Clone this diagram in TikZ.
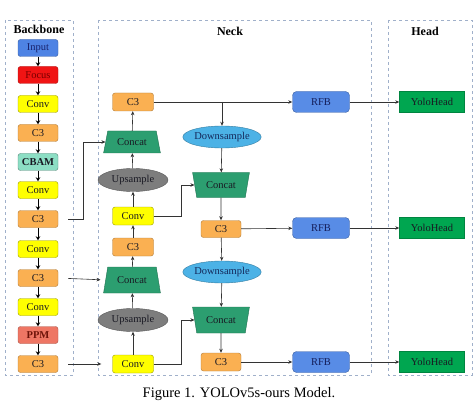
\documentclass[tikz,border=0pt]{standalone}
\usepackage{fontspec}
\setmainfont{Liberation Serif}
\usetikzlibrary{shapes.geometric,arrows.meta,positioning,calc}

\definecolor{inputC}{RGB}{78,131,228}
\definecolor{focusC}{RGB}{240,20,20}
\definecolor{convC}{RGB}{255,255,0}
\definecolor{cthreeC}{RGB}{250,176,82}
\definecolor{cbamC}{RGB}{140,222,196}
\definecolor{ppmC}{RGB}{238,118,100}
\definecolor{concatC}{RGB}{44,158,112}
\definecolor{upC}{RGB}{125,125,125}
\definecolor{downC}{RGB}{76,178,230}
\definecolor{rfbC}{RGB}{88,140,230}
\definecolor{yoloC}{RGB}{0,166,80}
\definecolor{frameC}{RGB}{160,176,202}
\definecolor{inkC}{RGB}{25,25,35}

\begin{document}
\begin{tikzpicture}[x=1pt,y=-1pt,
    font=\fontsize{10.5}{11}\selectfont, text=inkC,
    blk/.style={draw, rounded corners=2.5pt, minimum width=40pt, minimum height=17pt, inner sep=0pt},
    inbox/.style={blk, fill=inputC, draw=inputC!70!black, text={rgb,255:red,25;green,35;blue,110}},
    focbox/.style={blk, fill=focusC, draw=focusC!70!black, text={rgb,255:red,120;green,0;blue,0}},
    cvbox/.style={blk, fill=convC, draw=convC!60!black},
    cbox/.style={blk, fill=cthreeC, draw=cthreeC!70!black},
    cbambox/.style={blk, fill=cbamC, draw=cbamC!60!black, font=\fontsize{10.5}{11}\selectfont\bfseries},
    ppmbox/.style={blk, fill=ppmC, draw=ppmC!70!black, font=\fontsize{10.5}{11}\selectfont\bfseries, text={rgb,255:red,110;green,20;blue,10}},
    nbox/.style={blk, minimum width=41pt, minimum height=18pt},
    catbox/.style={trapezium, trapezium stretches=true, trapezium left angle=70, trapezium right angle=70,
        minimum width=57pt, minimum height=22pt, inner sep=0pt, fill=concatC, draw=concatC!70!black},
    ellbox/.style={ellipse, minimum width=70pt, minimum height=23pt, inner sep=0pt},
    rfbbox/.style={blk, fill=rfbC, draw=rfbC!70!black, rounded corners=4pt, minimum width=57pt, minimum height=21pt, text={rgb,255:red,20;green,30;blue,90}},
    yolobox/.style={rectangle, fill=yoloC, draw=yoloC!80!black, minimum width=65pt, minimum height=21pt, inner sep=0pt},
    frame/.style={draw=frameC, dashed, line width=0.7pt},
    ttl/.style={font=\fontsize{12}{13}\selectfont\bfseries, text=black},
    bbarrow/.style={-{Stealth[length=4pt,width=4.5pt]}, line width=1pt, black},
    narrow/.style={-{Stealth[length=4pt,width=3.5pt]}, line width=0.6pt, black!80}
  ]
  \useasboundingbox (0,0) rectangle (474,401);

  % Frames
  \draw[frame] (5,20) rectangle (73,375);
  \draw[frame] (98,20) rectangle (371,375);
  \draw[frame] (388,20) rectangle (472,375);
  \node[ttl] (tBack) at (39,29) {Backbone};
  \node[ttl] (tNeck) at (230,31) {Neck};
  \node[ttl] (tHead) at (425,31) {Head};

  % Backbone
  \foreach \nm/\txt/\sty/\yy in {bIn/Input/inbox/48, bFoc/Focus/focbox/75, bCv1/Conv/cvbox/104,
      bC1/C3/cbox/133, bCb/CBAM/cbambox/162, bCv2/Conv/cvbox/190, bC2/C3/cbox/219,
      bCv3/Conv/cvbox/249, bC3/C3/cbox/278, bCv4/Conv/cvbox/307, bPp/PPM/ppmbox/335, bC4/C3/cbox/364}
    \node[\sty] (\nm) at (38,\yy) {\txt};
  \foreach \a/\b in {bIn/bFoc, bFoc/bCv1, bCv1/bC1, bC1/bCb, bCb/bCv2, bCv2/bC2,
      bC2/bCv3, bCv3/bC3, bC3/bCv4, bCv4/bPp, bPp/bC4}
    \draw[bbarrow] (\a) -- (\b);

  % Neck, upsampling path
  \node[cbox, nbox] (nC3a) at (133,102) {C3};
  \node[catbox] (nCat1) at (132,142) {Concat};
  \node[ellbox, fill=upC, draw=upC!70!black] (nUp1) at (133,180) {Upsample};
  \node[cvbox, nbox] (nCv1) at (133,216) {Conv};
  \node[cbox, nbox] (nC3b) at (133,247) {C3};
  \node[catbox, minimum height=26pt] (nCat2) at (132,280) {Concat};
  \node[ellbox, fill=upC, draw=upC!70!black] (nUp2) at (133,320) {Upsample};
  \node[cvbox, nbox] (nCv2) at (133,364) {Conv};
  \foreach \a/\b in {nCv2/nUp2, nUp2/nCat2, nCat2/nC3b, nC3b/nCv1, nCv1/nUp1, nUp1/nCat1, nCat1/nC3a}
    \draw[narrow] (\a) -- (\b);

  % Neck, downsampling path
  \node[ellbox, fill=downC, draw=downC!70!black, minimum height=22pt, text={rgb,255:red,20;green,40;blue,90}] (nDn1) at (222,137) {Downsample};
  \node[catbox, shape border rotate=180, minimum height=25pt] (nCat3) at (221,185) {Concat};
  \node[cbox] (nC3c) at (221,229) {C3};
  \node[ellbox, fill=downC, draw=downC!70!black, minimum height=22pt, text={rgb,255:red,20;green,40;blue,90}] (nDn2) at (222,272) {Downsample};
  \node[catbox, shape border rotate=180, minimum height=26pt] (nCat4) at (221,320) {Concat};
  \node[cbox, minimum height=18pt] (nC3d) at (221,362) {C3};

  % RFB and heads
  \node[rfbbox] (rfb1) at (321,102) {RFB};
  \node[rfbbox] (rfb2) at (321,228) {RFB};
  \node[rfbbox] (rfb3) at (321,362) {RFB};
  \node[yolobox] (yh1) at (432,102) {YoloHead};
  \node[yolobox] (yh2) at (432,228) {YoloHead};
  \node[yolobox] (yh3) at (432,362) {YoloHead};

  % Backbone to neck
  \draw[narrow, shorten <=10pt] (bC2.east) -- ++(25,0) |- (nCat1.west);
  \draw[narrow, shorten <=10pt, shorten >=5pt] (bC3.east) -- (nCat2.west);
  \draw[narrow, shorten <=10pt, shorten >=11pt] (bC4.east) -- (nCv2.west);

  % Neck connections
  \draw[narrow] (nC3a.east) -- (rfb1.west);
  \draw[narrow] (nDn1.north |- nC3a.east) -- (nDn1.north);
  \draw[narrow] (nDn1) -- (nCat3);
  \draw[narrow] (nCv1.east) -- ++(28,0) |- (nCat3.west);
  \draw[narrow] (nCat3) -- (nC3c);
  \draw[narrow] (nC3c) -- (rfb2);
  \draw[narrow] (nC3c) -- (nDn2);
  \draw[narrow] (nDn2) -- (nCat4);
  \draw[narrow] (nCv2.east) -- ++(28,0) |- (nCat4.west);
  \draw[narrow, line width=0.9pt] (nCat4) -- (nC3d);
  \draw[narrow] (nC3d) -- (rfb3);

  % Head connections
  \foreach \a/\b in {rfb1/yh1, rfb2/yh2, rfb3/yh3}
    \draw[narrow] (\a) -- (\b);

  % Caption
  \node[font=\fontsize{14.5}{16}\selectfont, text=black, anchor=base] (cap) at (239,397) {Figure 1. YOLOv5s-ours Model.};
\end{tikzpicture}
\end{document}
